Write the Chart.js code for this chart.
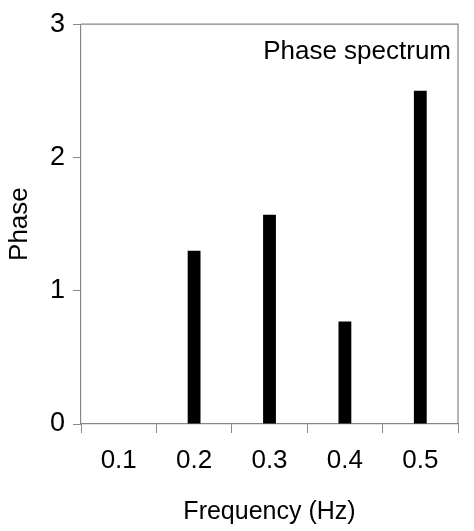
<!DOCTYPE html>
<html><head><meta charset="utf-8">
<script src="https://cdn.jsdelivr.net/npm/chart.js@4"></script>
<style>html,body{margin:0;padding:0;background:#fff}#w{width:474px;height:531px}</style>
</head><body><div id="w"><canvas id="c"></canvas></div>
<script>
const categories = ["0.1","0.2","0.3","0.4","0.5"];
const phaseValues = [0, 1.30, 1.57, 0.77, 2.50];
const yTicks = [0,1,2,3];
const F = "'Liberation Sans', Arial, sans-serif";
const frame = {id:'frame', afterDraw(ch){const a=ch.chartArea,c=ch.ctx;c.save();c.strokeStyle='#888';c.lineWidth=1.2;
 c.beginPath();c.moveTo(a.left,a.top);c.lineTo(a.right,a.top);c.lineTo(a.right,a.bottom);c.stroke();
 c.fillStyle='#000';c.font="26px "+F;c.textAlign='right';c.textBaseline='alphabetic';c.fillText('Phase spectrum',a.right-7,a.top+35);c.restore();}};
new Chart(document.getElementById('c'),{type:'bar',
 data:{labels:categories,datasets:[{data:phaseValues,backgroundColor:'#000',barPercentage:0.17,categoryPercentage:1}]},
 options:{responsive:true,maintainAspectRatio:false,animation:false,
  layout:{padding:{top:21,right:16,left:0,bottom:0}},
  plugins:{legend:{display:false},tooltip:{enabled:false}},
  scales:{
   x:{offset:true,grid:{offset:true,drawOnChartArea:false,tickLength:9,color:'#888'},border:{color:'#888',width:1.2},
      ticks:{color:'#000',font:{family:F,size:26},padding:12},
      title:{display:true,text:'Frequency (Hz)',color:'#000',font:{family:F,size:25},padding:{top:10}},
      afterFit(s){s.height=107;}},
   y:{min:0,max:3,afterBuildTicks(s){s.ticks=yTicks.map(v=>({value:v}));},
      grid:{drawOnChartArea:false,tickLength:8,color:'#888'},border:{color:'#888',width:1.2},
      ticks:{color:'#000',font:{family:F,size:27},padding:8},
      title:{display:true,text:'Phase',color:'#000',font:{family:F,size:26},padding:{bottom:4}},
      afterFit(s){s.width=81;}}
  }},plugins:[frame]});
</script></body></html>
